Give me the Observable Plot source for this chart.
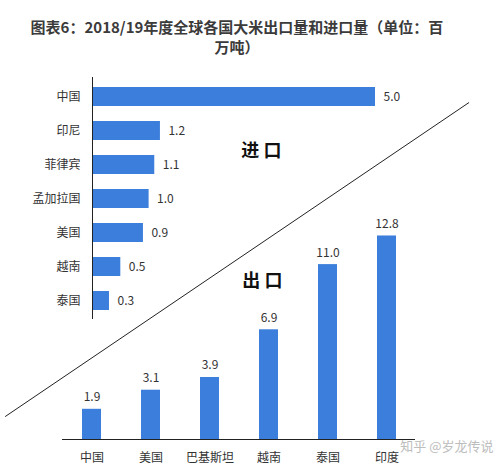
<!DOCTYPE html>
<html><head><meta charset="utf-8">
<script src="https://cdn.jsdelivr.net/npm/d3@7"></script>
<script src="https://cdn.jsdelivr.net/npm/@observablehq/plot@0.6"></script>
<style>
body{margin:0;background:#fff;}
#wrap{position:relative;width:496px;height:471px;overflow:hidden;font-family:"Noto Sans CJK SC","Noto Sans",sans-serif;}
#title{position:absolute;left:-11px;top:17px;width:496px;text-align:center;font-weight:bold;font-size:15px;line-height:20px;color:#3b3b3b;}
.layer{position:absolute;left:0;}
.layer svg{background:transparent !important;overflow:visible;}
</style></head>
<body><div id="wrap"><div id="title">图表6：2018/19年度全球各国大米出口量和进口量（单位：百<br>万吨）</div></div>
<script>
// ---- data ----
const importCountries = ["中国","印尼","菲律宾","孟加拉国","美国","越南","泰国"];
const importValues = [5.0,1.2,1.1,1.0,0.9,0.5,0.3];
const exportCountries = ["中国","美国","巴基斯坦","越南","泰国","印度"];
const exportValues = [1.9,3.1,3.9,6.9,11.0,12.8];
const sectionLabels = ["进 口","出 口"];
const watermarkText = "知乎 @岁龙传说";

const BAR = "#3b7edb";
const TXT = "#333333";
const FONT = '"Noto Sans CJK SC","Noto Sans",sans-serif';
const wrap = document.getElementById("wrap");
function place(svg, top){ const d=document.createElement("div"); d.className="layer"; d.style.top=top+"px"; d.appendChild(svg); wrap.appendChild(d); }

const imports = importCountries.map((c,i)=>({country:c, value:importValues[i]}));
const exportsData = exportCountries.map((c,i)=>({country:c, value:exportValues[i]}));

// ---- import chart (horizontal bars) ----
const topChart = Plot.plot({
  width:496, height:260, marginTop:17, marginBottom:1, marginLeft:92, marginRight:64.4,
  x:{domain:[0,6], axis:null},
  y:{domain:importCountries, paddingInner:0.45, paddingOuter:0.23, label:null, tickSize:0, tickPadding:12},
  style:{fontFamily:FONT, fontSize:"12px", color:TXT, background:"transparent", overflow:"visible"},
  marks:[
    Plot.barX(imports,{x:"value", y:"country", fill:BAR}),
    Plot.text(imports,{x:"value", y:"country", text:d=>d.value.toFixed(1), textAnchor:"start", dx:8, fill:TXT, fontSize:12}),
    Plot.ruleX([0],{stroke:"#222", strokeWidth:1})
  ]
});
place(topChart, 60);

// ---- export chart (vertical bars) ----
const bottomChart = Plot.plot({
  width:496, height:271, marginTop:16.4, marginBottom:32, marginLeft:62, marginRight:81,
  x:{domain:exportCountries, paddingInner:0.68, paddingOuter:0.33, tickSize:0, tickPadding:14, label:null},
  y:{domain:[0,14], axis:null},
  style:{fontFamily:FONT, fontSize:"12px", color:TXT, background:"transparent", overflow:"visible"},
  marks:[
    Plot.barY(exportsData,{x:"country", y:"value", fill:BAR}),
    Plot.text(exportsData,{x:"country", y:"value", text:d=>d.value.toFixed(1), lineAnchor:"bottom", dy:-8, fill:TXT, fontSize:12}),
    Plot.ruleY([0],{stroke:"#222", strokeWidth:1})
  ]
});
place(bottomChart, 200);

// ---- annotations: divider and section labels (frame fractions) ----
const divider = [{fx:0.010, fy:0.883},{fx:0.944, fy:0.217}];
const sections = [{fx:0.526, fy:0.321, label:sectionLabels[0]},{fx:0.528, fy:0.597, label:sectionLabels[1]}];
const marks = [{fx:0.806, fy:0.947, label:watermarkText}];
const overlay = Plot.plot({
  width:496, height:471, margin:0,
  x:{domain:[0,1], range:[0,496], axis:null},
  y:{domain:[0,1], range:[0,471], axis:null},
  style:{fontFamily:FONT, background:"transparent", overflow:"visible"},
  marks:[
    Plot.line(divider,{x:"fx", y:"fy", stroke:"#222", strokeWidth:1}),
    Plot.text(sections,{x:"fx", y:"fy", text:"label", fontSize:18, fontWeight:"bold", fill:"#111"}),
    Plot.text(marks,{x:"fx", y:"fy", text:"label", fontSize:13, fill:"#bdbdbd", textAnchor:"start"})
  ]
});
place(overlay, 0);
</script>
</body></html>
